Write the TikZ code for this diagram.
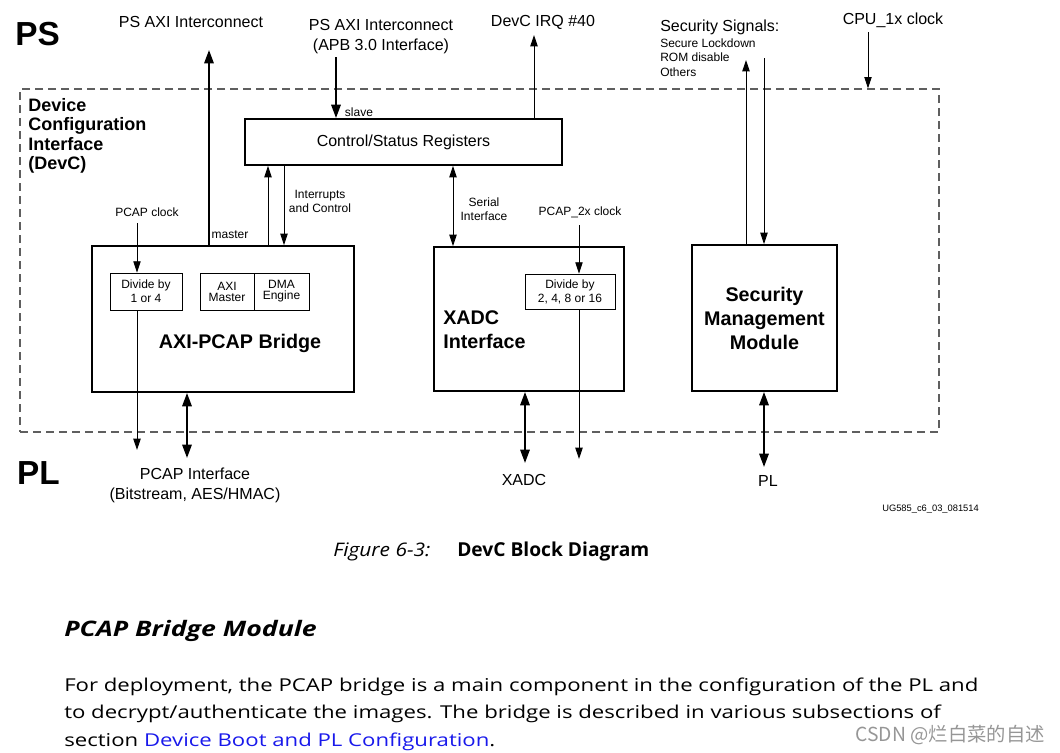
\documentclass[tikz,border=0pt]{standalone}
\usepackage{fontspec}
\setmainfont{Liberation Sans}
\newfontfamily\docfont[FakeStretch=1.25]{Open Sans}
\newfontfamily\capfont[FakeStretch=1.12]{Open Sans}
\newfontfamily\plainfont{Open Sans}
\newfontfamily\cjkfont{Noto Sans CJK SC}
\usepackage{xcolor}
\usetikzlibrary{arrows.meta}
\definecolor{dashgray}{RGB}{95,95,95}
\definecolor{linkblue}{RGB}{25,25,235}
\definecolor{markgray}{RGB}{150,150,150}

\begin{document}
\begin{tikzpicture}[x=0.75pt,y=0.75pt,yscale=-1,xscale=1,
  blk/.style={draw,line width=1.4pt,inner sep=0pt},
  subblk/.style={draw,line width=0.6pt,inner sep=0pt,align=center,font=\fontsize{9}{10.5}\selectfont},
  tightblk/.style={subblk,font=\fontsize{9}{8.2}\selectfont},
  bigarr/.style={line width=1.5pt,-{Triangle[length=10pt,width=7pt]}},
  bigdarr/.style={line width=1.5pt,{Triangle[length=10pt,width=7pt]}-{Triangle[length=10pt,width=7pt]}},
  thinarr/.style={line width=0.7pt,-{Triangle[length=8.5pt,width=5.5pt]}},
  thindarr/.style={line width=0.7pt,{Triangle[length=8.5pt,width=5.5pt]}-{Triangle[length=8.5pt,width=5.5pt]}},
  lbl/.style={inner sep=0pt,align=center,font=\fontsize{12}{15}\selectfont},
  smalllbl/.style={inner sep=0pt,align=center,font=\fontsize{9}{10.5}\selectfont},
  boldlbl/.style={inner sep=0pt,align=center,font=\bfseries\fontsize{14.8}{18}\selectfont},
  sidelbl/.style={inner sep=0pt,font=\bfseries\fontsize{25}{25}\selectfont},
  doctext/.style={inner sep=0pt,anchor=base west,font=\docfont\fontsize{13.3}{16}\selectfont}
]
\useasboundingbox (0,0) rectangle (1060,753);

% DevC region
\node [draw=dashgray,line width=0.9pt,dash pattern=on 6pt off 3.75pt,minimum width=689.25pt,minimum height=257.25pt,inner sep=0pt] (devc) at (479.5,260.5) {};
\node [anchor=west,inner sep=0pt,align=left,font=\bfseries\fontsize{13.5}{14.6}\selectfont] (devclbl) at (28,136) {Device\\Configuration\\Interface\\(DevC)};

% PS and PL
\node [sidelbl] (ps) at (37.5,34.5) {PS};
\node [sidelbl] (pl) at (38.5,473) {PL};

% Blocks
\node [blk,minimum width=237.75pt,minimum height=34.5pt,font=\fontsize{12}{14}\selectfont] (ctrl) at (403.5,142) {Control/Status Registers};
\node [blk,minimum width=196.5pt,minimum height=109.5pt] (bridge) at (223,319) {};
\node [blk,minimum width=142.5pt,minimum height=108pt] (xadc) at (529,319) {};
\node [blk,minimum width=108.75pt,minimum height=109.5pt,align=center,font=\bfseries\fontsize{14.8}{18}\selectfont] (secm) at (764.5,318) {Security\\Management\\Module};

% Blocks inside
\node [subblk,minimum width=54pt,minimum height=27.75pt] (div1) at (146,291.5) {Divide by\\1 or 4};
\node [tightblk,minimum width=40.5pt,minimum height=27.75pt] (axim) at (227,291.5) {AXI\\Master};
\node [tightblk,minimum width=41.25pt,minimum height=27.75pt] (dma) at (281.5,291.5) {DMA\\Engine};
\node [subblk,minimum width=67.5pt,minimum height=26.25pt] (div2) at (570,291.5) {Divide by\\2, 4, 8 or 16};

% Block titles
\node [boldlbl] (bridgelbl) at (240,343) {AXI-PCAP Bridge};
\node [boldlbl,anchor=west,align=left] (xadclbl) at (443,330) {XADC\\Interface};

% Text Node
\node [lbl] (axi) at (191,22) {PS AXI Interconnect};
\node [lbl] (apb) at (381,37) {PS AXI Interconnect\\(APB 3.0 Interface)};
\node [lbl] (irq) at (543,22) {DevC IRQ \#40};
\node [lbl] (cpu) at (893,20) {CPU\_1x clock};
\node [lbl,anchor=west] (sectitle) at (660,27) {Security Signals:};
\node [smalllbl,anchor=west,align=left,font=\fontsize{9}{10.9}\selectfont] (seclist) at (660,57.5) {Secure Lockdown\\ROM disable\\Others};
\node [smalllbl] (masterlbl) at (230,235) {master};
\node [smalllbl] (slavelbl) at (359,112) {slave};
\node [smalllbl] (intlbl) at (320,201) {Interrupts\\and Control};
\node [smalllbl] (serlbl) at (484,209) {Serial\\Interface};
\node [smalllbl] (pclklbl) at (147,212) {PCAP clock};
\node [smalllbl] (p2clklbl) at (580,212) {PCAP\_2x clock};
\node [lbl] (pcaplbl) at (195,485) {PCAP Interface\\(Bitstream, AES/HMAC)};
\node [lbl] (xadcio) at (524,480) {XADC};
\node [lbl] (plio) at (768,481) {PL};
\node [inner sep=0pt,anchor=west,font=\fontsize{7}{8}\selectfont] (ugnum) at (882,509) {UG585\_c6\_03\_081514};

% Connector ends
\coordinate (mtip) at (209,50);
\coordinate (stail) at (336,57);
\coordinate (irqtip) at (534,35);
\coordinate (iup) at (268,200);
\coordinate (idn) at (284,200);
\coordinate (ser) at (453,200);
\coordinate (pclk) at (137,223);
\coordinate (pout) at (137,450);
\coordinate (pcapio) at (187,458);
\coordinate (p2clk) at (579,225);
\coordinate (p2out) at (579,459);
\coordinate (xio) at (525,463);
\coordinate (secout) at (746,60);
\coordinate (secin) at (764,58);
\coordinate (secio) at (764,467);
\coordinate (cpuclk) at (868,32);

% Connectors
\draw [bigarr] (mtip |- bridge.north) -- (mtip);
\draw [bigarr] (stail) -- (stail |- ctrl.north);
\draw [thinarr] (irqtip |- ctrl.north) -- (irqtip);
\draw [thinarr] (iup |- bridge.north) -- (iup |- ctrl.south);
\draw [thinarr] (idn |- ctrl.south) -- (idn |- bridge.north);
\draw [thindarr] (ser |- ctrl.south) -- (ser |- xadc.north);
\draw [thinarr] (pclk) -- (pclk |- div1.north);
\draw [thinarr] (pout |- div1.south) -- (pout);
\draw [bigdarr] (pcapio |- bridge.south) -- (pcapio);
\draw [thinarr] (p2clk) -- (p2clk |- div2.north);
\draw [thinarr] (p2out |- div2.south) -- (p2out);
\draw [bigdarr] (xio |- xadc.south) -- (xio);
\draw [thinarr] (secout |- secm.north) -- (secout);
\draw [thinarr] (secin) -- (secin |- secm.north);
\draw [bigdarr] (secio |- secm.south) -- (secio);
\draw [thinarr] (cpuclk) -- (cpuclk |- devc.north);

% Caption and text
\node [inner sep=0pt,anchor=base west,font=\capfont\itshape\fontsize{14}{16}\selectfont] (figcap) at (333,556.7) {Figure 6-3:};
\node [inner sep=0pt,anchor=base west,font=\plainfont\bfseries\fontsize{14.4}{16}\selectfont] (figtitle) at (457,556.7) {DevC Block Diagram};
\node [inner sep=0pt,anchor=base west,font=\docfont\bfseries\itshape\fontsize{16}{18}\selectfont] (heading) at (64,636) {PCAP Bridge Module};
\node [doctext] (para1) at (64,691) {For deployment, the PCAP bridge is a main component in the configuration of the PL and};
\node [doctext] (para2) at (64,718.5) {to decrypt/authenticate the images. The bridge is described in various subsections of};
\node [doctext] (para3) at (64,746) {section \textcolor{linkblue}{Device Boot and PL Configuration}.};
\node [inner sep=0pt,anchor=base east,text=markgray,font=\cjkfont\fontsize{14.5}{16}\selectfont] (mark) at (1045,741) {CSDN @烂白菜的自述};

\end{tikzpicture}
\end{document}
